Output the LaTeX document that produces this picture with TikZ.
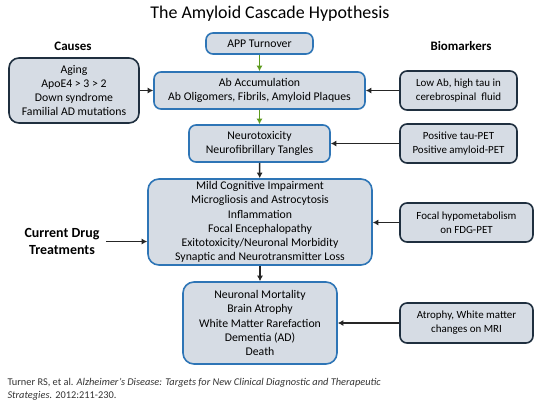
\documentclass[tikz,border=0pt]{standalone}
\usepackage{fontspec}
\setmainfont{Carlito}
\usepackage{xcolor}
\usepackage{tikz}
\usetikzlibrary{positioning,arrows.meta}
\definecolor{boxfill}{RGB}{214, 220, 228}
\definecolor{stageblue}{RGB}{46, 117, 182}
\definecolor{markernavy}{RGB}{31, 47, 63}
\definecolor{flowgreen}{RGB}{94, 155, 30}
\tikzset{
    box/.style={rectangle, rounded corners=7bp, fill=boxfill, line width=1.6bp, align=center, inner sep=1bp, font=\fontsize{11.8}{14.3}\selectfont},
    stage box/.style={box, draw=stageblue},
    marker box/.style={box, draw=markernavy, font=\fontsize{11}{14.3}\selectfont},
    big stage/.style={stage box, rounded corners=11bp},
    head label/.style={font=\fontsize{13}{16}\selectfont\bfseries, align=center},
    flow arrow/.style={-{Latex[length=5.5bp,width=6bp]}, line width=1.6bp, flowgreen},
    main arrow/.style={-{Latex[length=5.5bp,width=6bp]}, line width=1.6bp, black!85}
}

\begin{document}
\begin{tikzpicture}[x=1bp, y=-1bp]
    \useasboundingbox (0,0) rectangle (540,405);

    % Title
    \node[font=\fontsize{18}{20}\selectfont] (title) at (270,14) {The Amyloid Cascade Hypothesis};

    % Column headings
    \node[head label] (causeslbl) at (73,46) {Causes};
    \node[head label] (biolbl) at (461,46) {Biomarkers};
    \node[head label, font=\fontsize{14}{16.5}\selectfont\bfseries] (drug) at (62,241.5) {Current Drug\\Treatments};

    % Cascade stages - centred at x=260
    \node[stage box, minimum width=107bp, minimum height=21bp] (app) at (259.5,43.5) {APP Turnover};
    \node[stage box, minimum width=211bp, minimum height=37bp] (abacc) at (259.5,90.5) {Ab Accumulation\\Ab Oligomers, Fibrils, Amyloid Plaques};
    \node[stage box, minimum width=141bp, minimum height=37bp] (neurotox) at (259.5,143.5) {Neurotoxicity\\Neurofibrillary Tangles};
    \node[big stage, minimum width=224bp, minimum height=86bp] (mci) at (260,222) {Mild Cognitive Impairment\\Microgliosis and Astrocytosis\\Inflammation\\Focal Encephalopathy\\Exitotoxicity/Neuronal Morbidity\\Synaptic and Neurotransmitter Loss};
    \node[big stage, minimum width=154bp, minimum height=82bp] (mortal) at (260,323) {Neuronal Mortality\\Brain Atrophy\\White Matter Rarefaction\\Dementia (AD)\\Death};

    % Causes
    \node[box, draw=markernavy, rounded corners=10bp, minimum width=130bp, minimum height=65bp] (causes) at (74,90.5) {Aging\\ApoE4 > 3 > 2\\Down syndrome\\Familial AD mutations};

    % Biomarkers
    \node[marker box, minimum width=117bp, minimum height=39bp] (csf) at (458.5,90.5) {Low Ab, high tau in\\cerebrospinal\ \ fluid};
    \node[marker box, minimum width=117bp, minimum height=39bp] (pet) at (458.5,143.5) {Positive tau-PET\\Positive amyloid-PET};
    \node[marker box, minimum width=133bp, minimum height=39bp] (fdg) at (466.5,222.5) {Focal hypometabolism\\on FDG-PET};
    \node[marker box, minimum width=133bp, minimum height=40bp] (mri) at (466.5,323) {Atrophy, White matter\\changes on MRI};

    % Cascade arrows
    \draw[flow arrow] (app) -- (abacc);
    \draw[flow arrow] (abacc) -- (neurotox);
    \draw[main arrow] (neurotox) -- (mci);
    \draw[main arrow] (mci) -- (mortal);

    % Side arrows
    \draw[main arrow] (causes) -- (abacc);
    \draw[main arrow] (csf) -- (abacc);
    \draw[main arrow] (pet) -- (neurotox);
    \draw[main arrow] (fdg.west) -- (fdg.west -| mci.east);
    \draw[main arrow] (mri) -- (mortal);
    \draw[main arrow] (drug.east) ++(3,0) coordinate (drugout) -- (drugout -| mci.west);

    % Reference
    \node[anchor=west, align=left, font=\fontsize{10.4}{13.5}\selectfont, color=black!80] (cite) at (4,389.5) {Turner RS, et al. \textit{Alzheimer's Disease: Targets for New Clinical Diagnostic and Therapeutic}\\\textit{Strategies.} 2012:211-230.};
\end{tikzpicture}
\end{document}
